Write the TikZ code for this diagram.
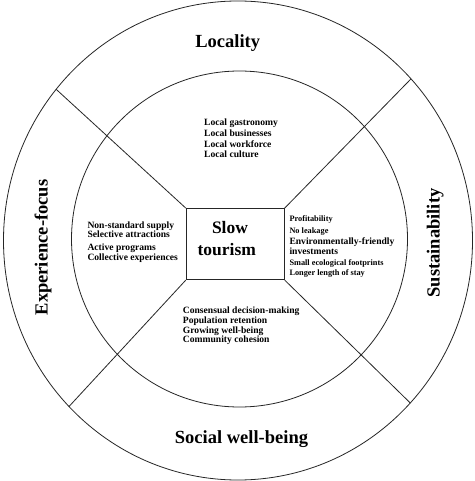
\documentclass[tikz,border=0pt]{standalone}
\usepackage{fontspec}
\setmainfont{Liberation Serif}
\begin{document}
\begin{tikzpicture}[x=1pt,y=-1pt,
  ring/.style={draw=black!85,line width=0.8pt},
  heading/.style={font=\fontsize{18.5}{22}\selectfont\bfseries,inner sep=0pt,anchor=base},
  core/.style={font=\fontsize{17.5}{21}\selectfont\bfseries,inner sep=0pt,anchor=base},
  item/.style={font=\fontsize{9.6}{11}\selectfont\bfseries,inner sep=0pt,anchor=base west},
  smallitem/.style={font=\fontsize{8.3}{10}\selectfont\bfseries,inner sep=0pt,anchor=base west}]
\useasboundingbox (0,0) rectangle (474,481);
\fill[white] (0,0) rectangle (474,481);
% circles
\coordinate (c) at (238,240.5);
\draw[ring] (c) ellipse [x radius=234.5pt, y radius=239.5pt];
\draw[ring] (239.5,239) circle [radius=168pt];
% central box
\node[ring,minimum width=98.1pt,minimum height=71.2pt,inner sep=0pt] (box) at (235.25,244.1) {};
% diagonals
\coordinate (tl) at (14.8,51.4);
\coordinate (tr) at (449,40);
\coordinate (bl) at (32.9,445.6);
\coordinate (br) at (447.7,439.6);
\begin{scope}
\clip (c) ellipse [x radius=234.5pt, y radius=239.5pt];
\draw[ring] (box.north west) -- (tl);
\draw[ring] (box.north east) -- (tr);
\draw[ring] (box.south west) -- (bl);
\draw[ring] (box.south east) -- (br);
\end{scope}
% headings
\node[heading] (loc) at (227.7,47.3) {Locality};
\node[heading] (soc) at (241.5,443.3) {Social well-being};
\node[heading,rotate=90] (exp) at (47.5,247.5) {Experience-focus};
\node[heading,rotate=90] (sus) at (439.5,243) {Sustainability};
% core text
\node[core] (slow) at (230,233.3) {Slow};
\node[core] (tour) at (226.8,255) {tourism};
% locality list
\node[item] (l1) at (204,125.7) {Local gastronomy};
\node[item] (l2) at (204,136.7) {Local businesses};
\node[item] (l3) at (204,147.7) {Local workforce};
\node[item] (l4) at (204,157.3) {Local culture};
% experience list
\node[item] (e1) at (87.3,228.3) {Non-standard supply};
\node[item] (e2) at (87.3,237.3) {Selective attractions};
\node[item] (e3) at (87.3,250) {Active programs};
\node[item] (e4) at (87.3,260) {Collective experiences};
% sustainability list
\node[smallitem] (s1) at (289.3,221.7) {Profitability};
\node[smallitem] (s2) at (289.3,233.3) {No leakage};
\node[item] (s3) at (289.3,244.3) {Environmentally-friendly};
\node[item] (s4) at (289.3,254) {investments};
\node[smallitem] (s5) at (289.3,265.3) {Small ecological footprints};
\node[smallitem] (s6) at (289.3,275) {Longer length of stay};
% social list
\node[item] (w1) at (182.7,313.3) {Consensual decision-making};
\node[item] (w2) at (182.7,323.3) {Population retention};
\node[item] (w3) at (182.7,333.3) {Growing well-being};
\node[item] (w4) at (182.7,342.7) {Community cohesion};
\end{tikzpicture}
\end{document}
